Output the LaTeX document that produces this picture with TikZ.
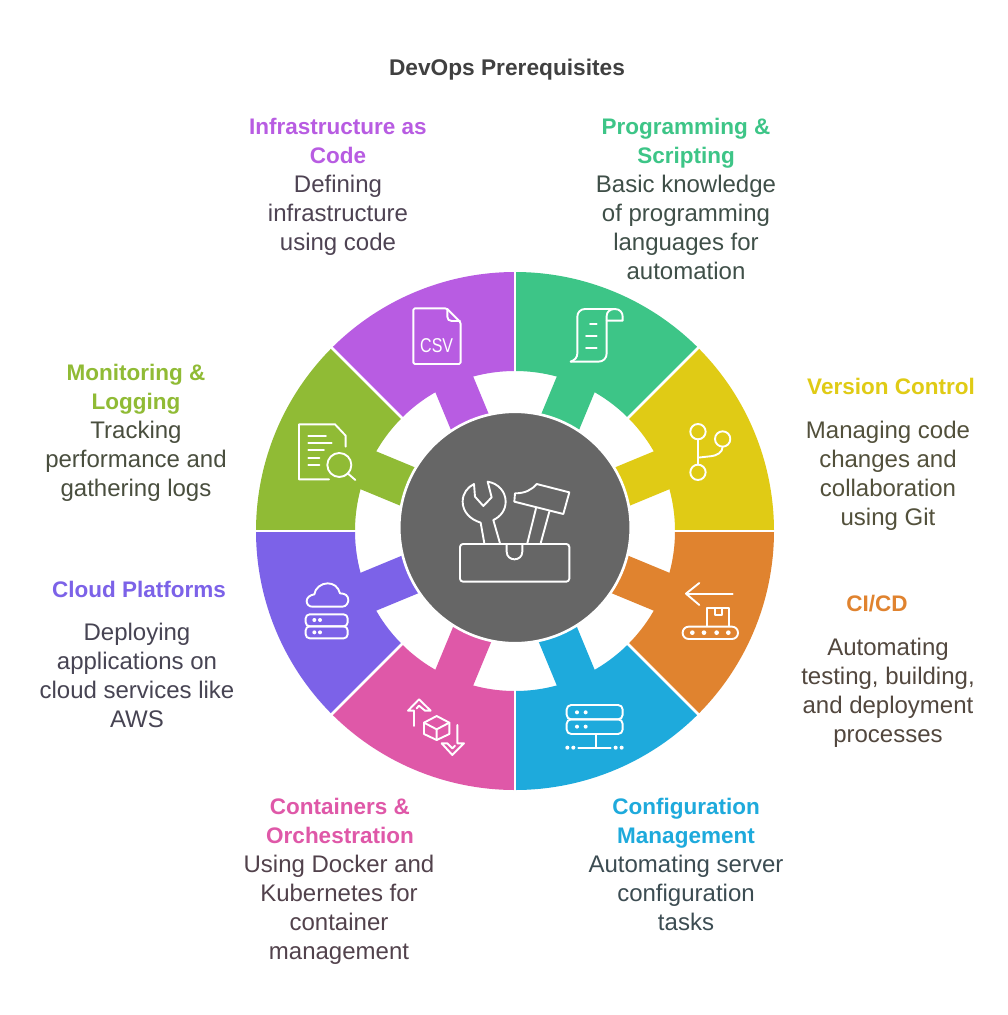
\documentclass[tikz,border=0pt]{standalone}
\usepackage{fontspec}
\setmainfont{Liberation Sans}
\definecolor{cgreen}{HTML}{3DC587}
\definecolor{cyellow}{HTML}{E0CB15}
\definecolor{corange}{HTML}{E0832F}
\definecolor{cblue}{HTML}{1EAADC}
\definecolor{cpink}{HTML}{DF58A8}
\definecolor{cviolet}{HTML}{7C62E8}
\definecolor{clime}{HTML}{90BB35}
\definecolor{cpurple}{HTML}{B85CE2}
\definecolor{chub}{HTML}{666666}
\newcommand{\st}{\rule[-6pt]{0pt}{23pt}}
\tikzset{
  heading/.style={align=center,inner sep=0pt,font=\fontsize{22.5}{29}\selectfont\bfseries},
  bodytext/.style={align=center,inner sep=0pt,font=\fontsize{24}{29}\selectfont},
  ico/.style={draw=white,line width=1.9pt,line cap=round,line join=round,fill=none},
  dot/.style={fill=white,draw=none},
  zoomA/.style={shift={(250,265)},x=0.3333pt,y=-0.3333pt},
  zoomB/.style={shift={(510,265)},x=0.3333pt,y=-0.3333pt},
  zoomC/.style={shift={(250,525)},x=0.3333pt,y=-0.3333pt},
  zoomD/.style={shift={(510,525)},x=0.3333pt,y=-0.3333pt},
  zoomHub/.style={shift={(440,460)},x=0.3333pt,y=-0.3333pt},
  zoomBox/.style={shift={(400,690)},x=0.3333pt,y=-0.3333pt},
  zoomCloud/.style={shift={(295,575)},x=0.3333pt,y=-0.3333pt},
  zoomScroll/.style={shift={(560,300)},x=0.3333pt,y=-0.3333pt},
}
\begin{document}
\begin{tikzpicture}[x=1pt,y=-1pt]
\useasboundingbox[fill=white] (0,0) rectangle (1008,1015);
% segments
\begin{scope}[shift={(515,531)},x=1pt,y=1pt]
\foreach \a/\c in {45/cgreen,0/cyellow,-45/corange,-90/cblue,-135/cpink,180/cviolet,135/clime,90/cpurple}{
  \pgfmathsetmacro{\b}{\a+45}
  \pgfmathsetmacro{\m}{\a+22.5}
  \fill[\c] (\a:160) -- (\a:259) arc[start angle=\a,end angle=\b,radius=259] -- (\b:160) arc[start angle=\b,end angle=\a,radius=160] -- cycle;
  \fill[\c,rotate=\m] (90,-20.5) rectangle (165,20.5);
}
\foreach \a in {0,45,...,315}{
  \draw[white,line width=2.6pt] (\a:158) -- (\a:262);
}
\end{scope}
% hub
\node[circle,fill=chub,draw=white,line width=2.6pt,minimum size=231.5pt,inner sep=0pt] (hub) at (515,527.5) {};
\begin{scope}[zoomHub]
\draw[ico,rounded corners=3pt] (200,252) -- (60,252) -- (60,365) -- (388,365) -- (388,252) -- (247,252);
\draw[ico] (200,252) -- (200,275) .. controls (200,290) and (212,298) .. (223.5,298) .. controls (235,298) and (247,290) .. (247,275) -- (247,252) -- cycle;
\draw[ico] (133,250) -- (122,188) .. controls (90,178) and (68,155) .. (68,125) .. controls (68,100) and (82,82) .. (102,72) -- (105,110) -- (130,138) -- (155,112) -- (143,65) .. controls (175,70) and (197,95) .. (197,125) .. controls (197,150) and (182,170) .. (160,180) -- (180,250);
\draw[ico] (262,250) -- (288,145) (302,250) -- (328,155);
\draw[ico] (225,100) .. controls (255,100) and (275,90) .. (290,72) -- (388,97) -- (370,162) -- (223,125) -- cycle;
\end{scope}
% csv icon
\begin{scope}[zoomA]
\draw[ico,rounded corners=1.5pt] (490,130) -- (590,130) -- (632,172) -- (632,297) -- (490,297) -- cycle;
\draw[ico] (592,132) -- (592,155) .. controls (592,163) and (597,168) .. (605,168) -- (630,168);
\node[text=white,inner sep=0pt,xscale=0.8,font=\fontsize{20}{20}\selectfont] (csv) at (560,242) {CSV};
% monitoring icon
\draw[ico] (237,643) -- (147,643) -- (147,478) -- (255,478) -- (287,512) -- (287,545);
\draw[ico] (175,513) -- (228,513) (175,535) -- (245,535) (175,556) -- (222,556) (175,578) -- (208,578) (175,600) -- (208,600);
\draw[ico] (268,600) circle[radius=36];
\draw[ico] (293,625) -- (316,645);
\end{scope}
% scroll icon
\begin{scope}[zoomScroll]
\draw[ico] (32,185) -- (115,185) .. controls (130,185) and (140,175) .. (140,160) -- (140,48) .. controls (140,35) and (150,27) .. (165,27);
\draw[ico] (32,185) .. controls (45,180) and (52,172) .. (52,160) -- (52,50) .. controls (52,37) and (62,27) .. (75,27) -- (165,27) .. controls (180,27) and (188,38) .. (188,50) -- (188,62) -- (140,62);
\draw[ico] (90,72) -- (110,72) (78,107) -- (110,107) (78,145) -- (110,145);
\end{scope}
\begin{scope}[zoomB]
% git icon
\draw[ico] (564,500) circle[radius=23];
\draw[ico] (638,522) circle[radius=23];
\draw[ico] (564,622) circle[radius=23];
\draw[ico] (564,523) -- (564,599);
\draw[ico] (564,578) -- (600,574) .. controls (622,572) and (638,562) .. (638,545);
\end{scope}
\begin{scope}[zoomD]
% ci/cd icon
\draw[ico] (668,206) -- (530,206);
\draw[ico] (568,174) -- (528,206) -- (568,240);
\draw[ico] (590,303) -- (590,250) -- (657,250) -- (657,303);
\draw[ico] (615,250) -- (615,270) -- (635,270) -- (635,250);
\draw[ico,rounded corners=6pt] (518,305) rectangle (684,342);
\foreach \x in {547,582,620,655}{\fill[dot] (\x,323) circle[radius=7];}
% server icon
\draw[ico,rounded corners=4.5pt] (170,540) rectangle (338,583);
\draw[ico,rounded corners=4.5pt] (170,583) rectangle (338,627);
\foreach \x/\y in {201/562,227/562,201/605,227/605,172/668,190/668,317/668,335/668}{\fill[dot] (\x,\y) circle[radius=6];}
\draw[ico] (257,627) -- (257,668) (205,668) -- (302,668);
\end{scope}
% containers icon
\begin{scope}[zoomBox]
\draw[ico] (42,108) -- (42,62) -- (24,62) -- (57,28) -- (92,62) -- (75,62) -- (57,47) -- (50,55);
\draw[ico] (110,78) -- (148,98) -- (148,132) -- (110,150) -- (72,132) -- (72,98) -- cycle;
\draw[ico] (72,98) -- (110,118) -- (148,98) (110,118) -- (110,150);
\draw[ico] (172,105) -- (172,160) -- (192,160) -- (157,195) -- (125,160) -- (142,160) -- (157,175) -- (165,167);
\end{scope}
% cloud icon
\begin{scope}[zoomCloud]
\draw[ico] (52,95) -- (142,95) .. controls (155,95) and (160,82) .. (160,75) .. controls (160,62) and (150,55) .. (135,55) .. controls (130,35) and (115,25) .. (98,25) .. controls (78,25) and (60,40) .. (58,58) .. controls (45,60) and (35,68) .. (35,78) .. controls (35,88) and (42,95) .. (52,95) -- cycle;
\draw[ico,rounded corners=4pt] (32,118) rectangle (158,154);
\draw[ico,rounded corners=4pt] (32,154) rectangle (158,190);
\foreach \x/\y in {58/135,75/135,58/172,75/172}{\fill[dot] (\x,\y) circle[radius=6];}
\end{scope}
% texts
\node[heading,font=\fontsize{22.7}{29}\selectfont\bfseries,text=black!75] (title) at (507,69.5) {\st DevOps Prerequisites};
\node[heading,text=cpurple] (h1) at (338,143) {\st Infrastructure as\\\st Code};
\node[bodytext,text=cpurple!15!black!78!white] (b1) at (338,215.5) {\st Defining\\infrastructure\\\st using code};
\node[heading,text=cgreen] (h2) at (686,143) {\st Programming \&\\\st Scripting};
\node[bodytext,text=cgreen!15!black!78!white] (b2) at (686,230) {\st Basic knowledge\\of programming\\languages for\\\st automation};
\node[heading,text=cyellow] (h3) at (891,388.5) {\st Version Control};
\node[bodytext,text=cyellow!15!black!78!white] (b3) at (888,476) {\st Managing code\\changes and\\collaboration\\\st using Git};
\node[heading,text=corange] (h4) at (877,605.5) {\st CI/CD};
\node[bodytext,text=corange!15!black!78!white] (b4) at (888,693) {\st Automating\\testing, building,\\and deployment\\\st processes};
\node[heading,text=cblue] (h5) at (686,823) {\st Configuration\\\st Management};
\node[bodytext,text=cblue!15!black!78!white] (b5) at (686,895.5) {\st Automating server\\configuration\\\st tasks};
\node[heading,text=cpink] (h6) at (340,823) {\st Containers \&\\\st Orchestration};
\node[bodytext,text=cpink!15!black!78!white] (b6) at (339,910) {\st Using Docker and\\Kubernetes for\\container\\\st management};
\node[heading,text=cviolet] (h7) at (139,591.5) {\st Cloud Platforms};
\node[bodytext,text=cviolet!15!black!78!white] (b7) at (137,678.5) {\st Deploying\\applications on\\cloud services like\\\st AWS};
\node[heading,text=clime] (h8) at (136,389) {\st Monitoring \&\\\st Logging};
\node[bodytext,text=clime!15!black!78!white] (b8) at (136,461.5) {\st Tracking\\performance and\\\st gathering logs};
\end{tikzpicture}
\end{document}
